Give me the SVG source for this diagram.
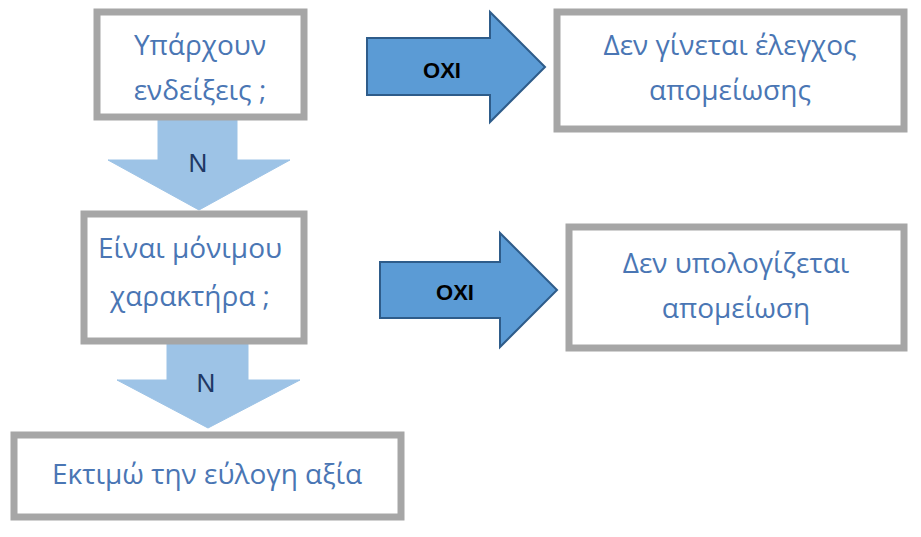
<svg xmlns="http://www.w3.org/2000/svg" width="921" height="537" viewBox="0 0 921 537">
<style>
.box{fill:#fff;stroke:#a6a6a6;stroke-width:7}
.t{font-family:"Open Sans","Liberation Sans",sans-serif;font-size:28px;fill:#4a76b4;text-anchor:middle}
.ra{fill:#5b9bd5;stroke:#2e5c8a;stroke-width:2}
.da{fill:#9dc3e6;stroke:#9dc3e6;stroke-width:1}
.lb{font-family:"Liberation Sans",sans-serif;font-weight:bold;font-size:22px;fill:#000;text-anchor:middle}
.n{font-family:"Liberation Sans",sans-serif;font-size:26px;fill:#1f3864;text-anchor:middle}
</style>
<g id="connectors">
<polygon class="da" points="158,118 237,118 237,160 290,160 199,210 108,160 158,160"/>
<text class="n" x="198" y="172">N</text>
<polygon class="da" points="167,342 248,342 248,380 300,380 208,428 117,380 167,380"/>
<text class="n" x="206" y="392">N</text>
<polygon class="ra" points="367,38 490,38 490,12 545,67 490,122 490,95 367,95"/>
<text class="lb" x="442" y="78">ΟΧΙ</text>
<polygon class="ra" points="380,262 500,262 500,233 557,290 500,347 500,318 380,318"/>
<text class="lb" x="455" y="300">ΟΧΙ</text>
</g>
<g id="n1"><rect class="box" x="97" y="12" width="207" height="105"/>
<text class="t" x="200" y="55">Υπάρχουν</text><text class="t" x="200" y="100">ενδείξεις ;</text></g>
<g id="n2"><rect class="box" x="557" y="12" width="347" height="117"/>
<text class="t" x="730" y="55">Δεν γίνεται έλεγχος</text><text class="t" x="730" y="100">απομείωσης</text></g>
<g id="n3"><rect class="box" x="84" y="214" width="220" height="127"/>
<text class="t" x="190" y="258">Είναι μόνιμου</text><text class="t" x="190" y="306">χαρακτήρα ;</text></g>
<g id="n4"><rect class="box" x="569" y="227" width="335" height="121"/>
<text class="t" x="736" y="273">Δεν υπολογίζεται</text><text class="t" x="736" y="318">απομείωση</text></g>
<g id="n5"><rect class="box" x="14" y="435" width="387" height="82"/>
<text class="t" x="207" y="484">Εκτιμώ την εύλογη αξία</text></g>
</svg>
